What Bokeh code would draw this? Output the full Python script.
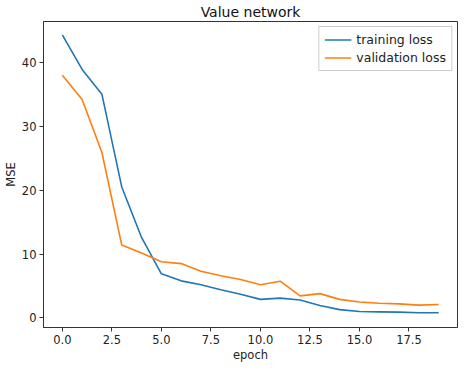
from bokeh.plotting import figure
from bokeh.models import FixedTicker, PrintfTickFormatter, Range1d, Legend, LegendItem
from bokeh.embed import file_html
from bokeh.resources import INLINE

epochs = list(range(20))
training_loss = [44.3, 38.9, 35.0, 20.5, 12.6, 6.9, 5.8, 5.2, 4.4, 3.7,
                 2.9, 3.1, 2.8, 1.95, 1.3, 1.0, 0.95, 0.9, 0.8, 0.8]
validation_loss = [38.0, 34.2, 25.9, 11.4, 10.15, 8.8, 8.5, 7.3, 6.6, 6.0,
                   5.2, 5.75, 3.45, 3.8, 2.9, 2.5, 2.3, 2.2, 2.0, 2.1]
x_ticks = [0, 2.5, 5, 7.5, 10, 12.5, 15, 17.5]
y_ticks = [0, 10, 20, 30, 40]

FONT = "DejaVu Sans"
AX = "#333333"

p = figure(width=458, height=364, output_backend="svg", toolbar_location=None,
           title="Value network",
           x_range=Range1d(-0.95, 19.95), y_range=Range1d(-1.5, 46.4),
           min_border_left=4, min_border_right=1, min_border_top=0, min_border_bottom=0)

p.title.align = "center"
p.title.text_font = FONT
p.title.text_font_size = "14px"
p.title.text_font_style = "normal"
p.title.text_color = "#111111"
p.title.standoff = 3

p.xgrid.visible = False
p.ygrid.visible = False
p.outline_line_color = AX
p.outline_line_width = 1

l1 = p.line(epochs, training_loss, line_color="#1f77b4", line_width=1.6)
l2 = p.line(epochs, validation_loss, line_color="#ff7f0e", line_width=1.6)

for ax in (p.xaxis[0], p.yaxis[0]):
    ax.axis_line_color = AX
    ax.major_tick_line_color = AX
    ax.minor_tick_line_color = None
    ax.major_tick_out = 4
    ax.major_tick_in = 0
    ax.major_label_text_font = FONT
    ax.major_label_text_font_size = "11.5px"
    ax.major_label_text_color = "#222222"
    ax.axis_label_text_font = FONT
    ax.axis_label_text_font_size = "11.5px"
    ax.axis_label_text_font_style = "normal"
    ax.axis_label_text_color = "#222222"
    ax.major_label_standoff = 3
    ax.axis_label_standoff = 1

p.xaxis.ticker = FixedTicker(ticks=x_ticks)
p.xaxis.formatter = PrintfTickFormatter(format="%.1f")
p.yaxis.ticker = FixedTicker(ticks=y_ticks)
p.xaxis.axis_label = "epoch"
p.yaxis.axis_label = "MSE"

legend = Legend(items=[LegendItem(label="training loss", renderers=[l1]),
                       LegendItem(label="validation loss", renderers=[l2])],
                location="top_right")
legend.label_text_font = FONT
legend.label_text_font_size = "12.5px"
legend.label_text_color = "#222222"
legend.border_line_color = "#cccccc"
legend.border_line_alpha = 1
legend.background_fill_alpha = 0.9
legend.glyph_width = 27
legend.glyph_height = 15
legend.label_height = 15
legend.spacing = 3
legend.padding = 5
legend.margin = 5
p.add_layout(legend)

open("out.html", "w").write(file_html(p, INLINE))
